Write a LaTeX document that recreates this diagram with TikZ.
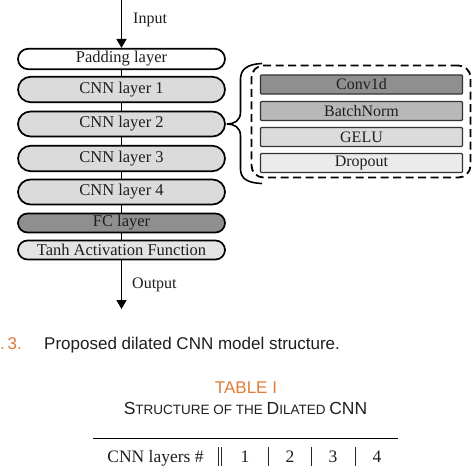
\documentclass[tikz,border=0pt]{standalone}
\usepackage{fontspec}
\setmainfont{Liberation Serif}
\newfontfamily\capfont{Liberation Sans}
\usetikzlibrary{arrows.meta,shapes.misc,calc}
\definecolor{ieeeorange}{HTML}{E07B39}
\definecolor{txt}{HTML}{1E1E1E}
\tikzset{
  layer/.style={rounded rectangle, draw=black, line width=1.7pt, minimum width=207pt, inner sep=0pt,
    text=txt, font=\fontsize{16.5}{18}\selectfont},
  sub/.style={rectangle, rounded corners=1pt, draw=black!80, line width=1.4pt, minimum width=202pt,
    minimum height=19pt, inner sep=0pt, text=txt, font=\fontsize{16}{18}\selectfont},
  link/.style={line width=1.5pt, draw=black},
  flow/.style={line width=1.5pt, draw=black, -{Triangle[width=10pt,length=9pt]}},
  grpbox/.style={draw=black, line width=1.8pt, dash pattern=on 8pt off 4.5pt, rounded corners=12pt,
    minimum width=219pt, minimum height=112pt, inner sep=0pt},
  lbl/.style={text=txt, inner sep=0pt, font=\fontsize{16}{18}\selectfont},
  captext/.style={inner sep=0pt, anchor=base west, font=\capfont\fontsize{17}{20}\selectfont},
  row/.style={inner sep=0pt, anchor=base, text=txt, font=\fontsize{17.5}{20}\selectfont},
  colrule/.style={line width=0.9pt, draw=black!85}
}
\begin{document}
\begin{tikzpicture}[x=1pt,y=-1pt]
\useasboundingbox (0,0) rectangle (474,466);
% left stack
\node[layer, fill=white, minimum height=20.5pt] (pad) at (121.5,59) {Padding layer};
\node[layer, fill=black!14, minimum height=25.5pt] (cnn1) at (121.5,89.5) {CNN layer 1};
\node[layer, fill=black!14, minimum height=25pt] (cnn2) at (121.5,124) {CNN layer 2};
\node[layer, fill=black!14, minimum height=25.5pt] (cnn3) at (121.5,158.5) {CNN layer 3};
\node[layer, fill=black!14, minimum height=25pt] (cnn4) at (121.5,192) {CNN layer 4};
\node[layer, fill=black!44, minimum height=19pt] (fc) at (121.5,223) {FC layer};
\node[layer, fill=black!11, minimum height=19pt] (tanh) at (121.5,250) {Tanh Activation Function};
\coordinate (in) at (121.5,0);
\coordinate (out) at (121.5,309);
\draw[flow] (in) -- (pad.north);
\draw[flow] (tanh.south) -- (out);
\draw[link] (pad.south) -- (cnn1.north);
\draw[link] (cnn1.south) -- (cnn2.north);
\draw[link] (cnn2.south) -- (cnn3.north);
\draw[link] (cnn3.south) -- (cnn4.north);
\draw[link] (cnn4.south) -- (fc.north);
\draw[link] (fc.south) -- (tanh.north);
\node[lbl, anchor=west] (inlbl) at (133,20) {Input};
\node[lbl, anchor=west] (outlbl) at (132,285) {Output};
% dashed group
\node[grpbox] (grp) at (361,121.5) {};
\node[sub, fill=black!44] (conv) at (361.5,84.5) {Conv1d};
\node[sub, fill=black!28] (bn) at (361.5,111) {BatchNorm};
\node[sub, fill=black!14] (gelu) at (361.5,137) {GELU};
\node[sub, fill=black!8] (drop) at (361.5,163) {Dropout};
% brace
\coordinate (tip) at ($(cnn2.east)+(1,0)$);
\draw[line width=1.6pt] (tip) .. controls (234,124) and (240.5,121) .. (240.5,112)
  -- (240.5,79) .. controls (240.5,69) and (248,64) .. (262,63.5);
\draw[line width=1.6pt] (tip) .. controls (234,124) and (240.5,127) .. (240.5,136)
  -- (240.5,169) .. controls (240.5,179) and (248,183) .. (262,183.5);
% caption
\node[captext, text=ieeeorange] (fignum) at (0,349) {.\,3.};
\node[captext, text=txt] (figcap) at (44,349) {Proposed dilated CNN model structure.};
\node[captext, text=ieeeorange, anchor=base] (tabnum) at (246,393) {TABLE I};
\node[inner sep=0pt, anchor=base, text=txt] (tabtitle) at (245.5,414)
  {\capfont\fontsize{17.5}{20}\selectfont S\fontsize{13.5}{16}\selectfont TRUCTURE OF THE
   \fontsize{17.5}{20}\selectfont D\fontsize{13.5}{16}\selectfont ILATED \fontsize{17.5}{20}\selectfont CNN};
% table
\coordinate (rl) at (93,438);
\coordinate (rr) at (398,438);
\draw[line width=1pt] (rl) -- (rr);
\node[row] (hdr) at (155.5,462) {CNN layers \#};
\node[row] (c1) at (245,462) {1};
\node[row] (c2) at (290,462) {2};
\node[row] (c3) at (333,462) {3};
\node[row] (c4) at (377,462) {4};
\draw[colrule] (218,447) -- (218,466);
\draw[colrule] (221.5,447) -- (221.5,466);
\draw[colrule] (268,447) -- (268,466);
\draw[colrule] (311.5,447) -- (311.5,466);
\draw[colrule] (355,447) -- (355,466);
\end{tikzpicture}
\end{document}
